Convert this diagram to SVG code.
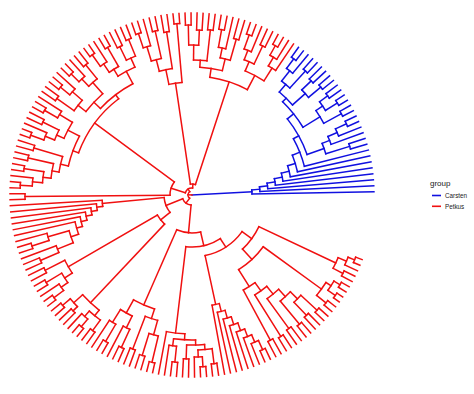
<svg xmlns="http://www.w3.org/2000/svg" width="474" height="394" viewBox="0 0 474 394">
<style>
path,circle{fill:none}
#tree{stroke-width:1.5;stroke-linecap:square}
.lt{font-family:"Liberation Sans",Arial,sans-serif;fill:#222}
</style>
<rect width="474" height="394" fill="#fff"/>
<g id="tree" transform="translate(192,195)">
<g id="carsten" stroke="#1010e0">
<path d="M0 0H60" transform="rotate(-2.95)"/>
<circle r="60" pathLength="360" stroke-dasharray="3.9 999" transform="rotate(-4.9)"/>
<path d="M60 0H182" transform="rotate(-1)"/><path d="M60 0H68" transform="rotate(-4.9)"/>
<circle r="68" pathLength="360" stroke-dasharray="4 999" transform="rotate(-6.9)"/>
<path d="M68 0H182" transform="rotate(-2.9)"/><path d="M68 0H76" transform="rotate(-6.9)"/>
<circle r="76" pathLength="360" stroke-dasharray="4.15 999" transform="rotate(-8.95)"/>
<path d="M76 0H182" transform="rotate(-4.8)"/><path d="M76 0H84" transform="rotate(-8.95)"/>
<circle r="84" pathLength="360" stroke-dasharray="4.5 999" transform="rotate(-11.2)"/>
<path d="M84 0H182" transform="rotate(-6.7)"/><path d="M84 0H92" transform="rotate(-11.2)"/>
<circle r="92" pathLength="360" stroke-dasharray="5.15 999" transform="rotate(-13.75)"/>
<path d="M92 0H182" transform="rotate(-8.6)"/><path d="M92 0H100" transform="rotate(-13.75)"/>
<circle r="100" pathLength="360" stroke-dasharray="6.5 999" transform="rotate(-17)"/>
<path d="M100 0H182" transform="rotate(-10.5)"/><path d="M100 0H108" transform="rotate(-17)"/>
<circle r="108" pathLength="360" stroke-dasharray="9.25 999" transform="rotate(-21.65)"/>
<path d="M108 0H182" transform="rotate(-12.4)"/><path d="M108 0H116" transform="rotate(-21.65)"/>
<circle r="116" pathLength="360" stroke-dasharray="14.7 999" transform="rotate(-29)"/>
<path d="M116 0H182" transform="rotate(-14.3)"/><path d="M116 0H122" transform="rotate(-29)"/>
<circle r="122" pathLength="360" stroke-dasharray="19.2 999" transform="rotate(-38.6)"/>
<path d="M122 0H140" transform="rotate(-19.4)"/><path d="M122 0H130" transform="rotate(-38.6)"/>
<circle r="140" pathLength="360" stroke-dasharray="4.5 999" transform="rotate(-21.65)"/>
<path d="M140 0H165" transform="rotate(-17.15)"/><path d="M140 0H148" transform="rotate(-21.65)"/>
<circle r="165" pathLength="360" stroke-dasharray="1.9 999" transform="rotate(-18.1)"/>
<path d="M165 0H182" transform="rotate(-16.2)"/><path d="M165 0H182" transform="rotate(-18.1)"/>
<circle r="148" pathLength="360" stroke-dasharray="3.3 999" transform="rotate(-23.3)"/>
<path d="M148 0H182" transform="rotate(-20)"/><path d="M148 0H158" transform="rotate(-23.3)"/>
<circle r="158" pathLength="360" stroke-dasharray="2.85 999" transform="rotate(-24.75)"/>
<path d="M158 0H182" transform="rotate(-21.9)"/><path d="M158 0H170" transform="rotate(-24.75)"/>
<circle r="170" pathLength="360" stroke-dasharray="1.9 999" transform="rotate(-25.7)"/>
<path d="M170 0H182" transform="rotate(-23.8)"/><path d="M170 0H182" transform="rotate(-25.7)"/>
<circle r="130" pathLength="360" stroke-dasharray="14.4 999" transform="rotate(-45.8)"/>
<path d="M130 0H150" transform="rotate(-31.4)"/><path d="M130 0H135" transform="rotate(-45.8)"/>
<circle r="150" pathLength="360" stroke-dasharray="5.7 999" transform="rotate(-34.25)"/>
<path d="M150 0H170" transform="rotate(-28.55)"/><path d="M150 0H158" transform="rotate(-34.25)"/>
<circle r="170" pathLength="360" stroke-dasharray="1.9 999" transform="rotate(-29.5)"/>
<path d="M170 0H182" transform="rotate(-27.6)"/><path d="M170 0H182" transform="rotate(-29.5)"/>
<circle r="158" pathLength="360" stroke-dasharray="3.8 999" transform="rotate(-36.15)"/>
<path d="M158 0H172" transform="rotate(-32.35)"/><path d="M158 0H168" transform="rotate(-36.15)"/>
<circle r="172" pathLength="360" stroke-dasharray="1.9 999" transform="rotate(-33.3)"/>
<path d="M172 0H182" transform="rotate(-31.4)"/><path d="M172 0H182" transform="rotate(-33.3)"/>
<circle r="168" pathLength="360" stroke-dasharray="1.9 999" transform="rotate(-37.1)"/>
<path d="M168 0H182" transform="rotate(-35.2)"/><path d="M168 0H182" transform="rotate(-37.1)"/>
<circle r="135" pathLength="360" stroke-dasharray="7.85 999" transform="rotate(-49.7)"/>
<path d="M135 0H152" transform="rotate(-41.85)"/><path d="M135 0H145" transform="rotate(-49.7)"/>
<circle r="152" pathLength="360" stroke-dasharray="3.8 999" transform="rotate(-43.75)"/>
<path d="M152 0H168" transform="rotate(-39.95)"/><path d="M152 0H165" transform="rotate(-43.75)"/>
<circle r="168" pathLength="360" stroke-dasharray="1.9 999" transform="rotate(-40.9)"/>
<path d="M168 0H182" transform="rotate(-39)"/><path d="M168 0H182" transform="rotate(-40.9)"/>
<circle r="165" pathLength="360" stroke-dasharray="1.9 999" transform="rotate(-44.7)"/>
<path d="M165 0H182" transform="rotate(-42.8)"/><path d="M165 0H182" transform="rotate(-44.7)"/>
<circle r="145" pathLength="360" stroke-dasharray="4.25 999" transform="rotate(-51.8)"/>
<path d="M145 0H168" transform="rotate(-47.55)"/><path d="M145 0H158" transform="rotate(-51.8)"/>
<circle r="168" pathLength="360" stroke-dasharray="1.9 999" transform="rotate(-48.5)"/>
<path d="M168 0H182" transform="rotate(-46.6)"/><path d="M168 0H182" transform="rotate(-48.5)"/>
<circle r="158" pathLength="360" stroke-dasharray="2.85 999" transform="rotate(-53.25)"/>
<path d="M158 0H182" transform="rotate(-50.4)"/><path d="M158 0H170" transform="rotate(-53.25)"/>
<circle r="170" pathLength="360" stroke-dasharray="1.9 999" transform="rotate(-54.2)"/>
<path d="M170 0H182" transform="rotate(-52.3)"/><path d="M170 0H182" transform="rotate(-54.2)"/>
</g>
<g id="petkus" stroke="#f01010">
<path d="M0 0H4" transform="rotate(-178.4)"/>
<circle r="4" pathLength="360" stroke-dasharray="109.75 999" transform="rotate(-233.3)"/>
<path d="M4 0H7" transform="rotate(-123.55)"/><path d="M4 0H10" transform="rotate(-233.3)"/>
<circle r="7" pathLength="360" stroke-dasharray="76.9 999" transform="rotate(-162)"/>
<path d="M7 0H11" transform="rotate(-85.1)"/><path d="M7 0H22" transform="rotate(-162)"/>
<circle r="11" pathLength="360" stroke-dasharray="26.55 999" transform="rotate(-98.4)"/>
<path d="M11 0H119" transform="rotate(-71.85)"/><path d="M11 0H113" transform="rotate(-98.4)"/>
<circle r="22" pathLength="360" stroke-dasharray="37.05 999" transform="rotate(-180.55)"/>
<path d="M22 0H121" transform="rotate(-143.5)"/><path d="M22 0H167" transform="rotate(-180.55)"/>
<circle r="167" pathLength="360" stroke-dasharray="1.9 999" transform="rotate(-181.5)"/>
<path d="M167 0H182" transform="rotate(-179.6)"/><path d="M167 0H182" transform="rotate(-181.5)"/>
<circle r="119" pathLength="360" stroke-dasharray="19.1 999" transform="rotate(-81.4)"/>
<path d="M119 0H135" transform="rotate(-62.3)"/><path d="M119 0H128" transform="rotate(-81.4)"/>
<circle r="135" pathLength="360" stroke-dasharray="9.05 999" transform="rotate(-66.8)"/>
<path d="M135 0H150" transform="rotate(-57.75)"/><path d="M135 0H145" transform="rotate(-66.8)"/>
<circle r="150" pathLength="360" stroke-dasharray="3.3 999" transform="rotate(-59.4)"/>
<path d="M150 0H182" transform="rotate(-56.1)"/><path d="M150 0H160" transform="rotate(-59.4)"/>
<circle r="160" pathLength="360" stroke-dasharray="2.85 999" transform="rotate(-60.85)"/>
<path d="M160 0H182" transform="rotate(-58)"/><path d="M160 0H171" transform="rotate(-60.85)"/>
<circle r="171" pathLength="360" stroke-dasharray="1.9 999" transform="rotate(-61.8)"/>
<path d="M171 0H182" transform="rotate(-59.9)"/><path d="M171 0H182" transform="rotate(-61.8)"/>
<circle r="145" pathLength="360" stroke-dasharray="4.25 999" transform="rotate(-68.9)"/>
<path d="M145 0H165" transform="rotate(-64.65)"/><path d="M145 0H155" transform="rotate(-68.9)"/>
<circle r="165" pathLength="360" stroke-dasharray="1.9 999" transform="rotate(-65.6)"/>
<path d="M165 0H182" transform="rotate(-63.7)"/><path d="M165 0H182" transform="rotate(-65.6)"/>
<circle r="155" pathLength="360" stroke-dasharray="2.85 999" transform="rotate(-70.35)"/>
<path d="M155 0H182" transform="rotate(-67.5)"/><path d="M155 0H170" transform="rotate(-70.35)"/>
<circle r="170" pathLength="360" stroke-dasharray="1.9 999" transform="rotate(-71.3)"/>
<path d="M170 0H182" transform="rotate(-69.4)"/><path d="M170 0H182" transform="rotate(-71.3)"/>
<circle r="128" pathLength="360" stroke-dasharray="10.2 999" transform="rotate(-86.5)"/>
<path d="M128 0H140" transform="rotate(-76.3)"/><path d="M128 0H135" transform="rotate(-86.5)"/>
<circle r="140" pathLength="360" stroke-dasharray="4.25 999" transform="rotate(-78.4)"/>
<path d="M140 0H162" transform="rotate(-74.15)"/><path d="M140 0H150" transform="rotate(-78.4)"/>
<circle r="162" pathLength="360" stroke-dasharray="1.9 999" transform="rotate(-75.1)"/>
<path d="M162 0H182" transform="rotate(-73.2)"/><path d="M162 0H182" transform="rotate(-75.1)"/>
<circle r="150" pathLength="360" stroke-dasharray="2.85 999" transform="rotate(-79.85)"/>
<path d="M150 0H182" transform="rotate(-77)"/><path d="M150 0H168" transform="rotate(-79.85)"/>
<circle r="168" pathLength="360" stroke-dasharray="1.9 999" transform="rotate(-80.8)"/>
<path d="M168 0H182" transform="rotate(-78.9)"/><path d="M168 0H182" transform="rotate(-80.8)"/>
<circle r="135" pathLength="360" stroke-dasharray="5.7 999" transform="rotate(-89.35)"/>
<path d="M135 0H166" transform="rotate(-83.65)"/><path d="M135 0H150" transform="rotate(-89.35)"/>
<circle r="166" pathLength="360" stroke-dasharray="1.9 999" transform="rotate(-84.6)"/>
<path d="M166 0H182" transform="rotate(-82.7)"/><path d="M166 0H182" transform="rotate(-84.6)"/>
<circle r="150" pathLength="360" stroke-dasharray="3.8 999" transform="rotate(-91.25)"/>
<path d="M150 0H165" transform="rotate(-87.45)"/><path d="M150 0H170" transform="rotate(-91.25)"/>
<circle r="165" pathLength="360" stroke-dasharray="1.9 999" transform="rotate(-88.4)"/>
<path d="M165 0H182" transform="rotate(-86.5)"/><path d="M165 0H182" transform="rotate(-88.4)"/>
<circle r="170" pathLength="360" stroke-dasharray="1.9 999" transform="rotate(-92.2)"/>
<path d="M170 0H182" transform="rotate(-90.3)"/><path d="M170 0H182" transform="rotate(-92.2)"/>
<circle r="113" pathLength="360" stroke-dasharray="6.75 999" transform="rotate(-101.8)"/>
<path d="M113 0H172" transform="rotate(-95.05)"/><path d="M113 0H128" transform="rotate(-101.8)"/>
<circle r="172" pathLength="360" stroke-dasharray="1.9 999" transform="rotate(-96)"/>
<path d="M172 0H182" transform="rotate(-94.1)"/><path d="M172 0H182" transform="rotate(-96)"/>
<circle r="128" pathLength="360" stroke-dasharray="5.95 999" transform="rotate(-104.8)"/>
<path d="M128 0H165" transform="rotate(-98.85)"/><path d="M128 0H140" transform="rotate(-104.8)"/>
<circle r="165" pathLength="360" stroke-dasharray="1.9 999" transform="rotate(-99.8)"/>
<path d="M165 0H182" transform="rotate(-97.9)"/><path d="M165 0H182" transform="rotate(-99.8)"/>
<circle r="140" pathLength="360" stroke-dasharray="4.25 999" transform="rotate(-106.9)"/>
<path d="M140 0H168" transform="rotate(-102.65)"/><path d="M140 0H155" transform="rotate(-106.9)"/>
<circle r="168" pathLength="360" stroke-dasharray="1.9 999" transform="rotate(-103.6)"/>
<path d="M168 0H182" transform="rotate(-101.7)"/><path d="M168 0H182" transform="rotate(-103.6)"/>
<circle r="155" pathLength="360" stroke-dasharray="2.85 999" transform="rotate(-108.35)"/>
<path d="M155 0H182" transform="rotate(-105.5)"/><path d="M155 0H170" transform="rotate(-108.35)"/>
<circle r="170" pathLength="360" stroke-dasharray="1.9 999" transform="rotate(-109.3)"/>
<path d="M170 0H182" transform="rotate(-107.4)"/><path d="M170 0H182" transform="rotate(-109.3)"/>
<circle r="121" pathLength="360" stroke-dasharray="32.3 999" transform="rotate(-159.6)"/>
<path d="M121 0H126" transform="rotate(-127.3)"/><path d="M121 0H127" transform="rotate(-159.6)"/>
<circle r="126" pathLength="360" stroke-dasharray="18.6 999" transform="rotate(-136.6)"/>
<path d="M126 0H140" transform="rotate(-118)"/><path d="M126 0H135" transform="rotate(-136.6)"/>
<circle r="140" pathLength="360" stroke-dasharray="7.85 999" transform="rotate(-121.9)"/>
<path d="M140 0H150" transform="rotate(-114.05)"/><path d="M140 0H148" transform="rotate(-121.9)"/>
<circle r="150" pathLength="360" stroke-dasharray="3.8 999" transform="rotate(-115.95)"/>
<path d="M150 0H168" transform="rotate(-112.15)"/><path d="M150 0H165" transform="rotate(-115.95)"/>
<circle r="168" pathLength="360" stroke-dasharray="1.9 999" transform="rotate(-113.1)"/>
<path d="M168 0H182" transform="rotate(-111.2)"/><path d="M168 0H182" transform="rotate(-113.1)"/>
<circle r="165" pathLength="360" stroke-dasharray="1.9 999" transform="rotate(-116.9)"/>
<path d="M165 0H182" transform="rotate(-115)"/><path d="M165 0H182" transform="rotate(-116.9)"/>
<circle r="148" pathLength="360" stroke-dasharray="4.25 999" transform="rotate(-124)"/>
<path d="M148 0H170" transform="rotate(-119.75)"/><path d="M148 0H158" transform="rotate(-124)"/>
<circle r="170" pathLength="360" stroke-dasharray="1.9 999" transform="rotate(-120.7)"/>
<path d="M170 0H182" transform="rotate(-118.8)"/><path d="M170 0H182" transform="rotate(-120.7)"/>
<circle r="158" pathLength="360" stroke-dasharray="2.85 999" transform="rotate(-125.45)"/>
<path d="M158 0H182" transform="rotate(-122.6)"/><path d="M158 0H172" transform="rotate(-125.45)"/>
<circle r="172" pathLength="360" stroke-dasharray="1.9 999" transform="rotate(-126.4)"/>
<path d="M172 0H182" transform="rotate(-124.5)"/><path d="M172 0H182" transform="rotate(-126.4)"/>
<circle r="135" pathLength="360" stroke-dasharray="10.4 999" transform="rotate(-141.8)"/>
<path d="M135 0H150" transform="rotate(-131.4)"/><path d="M135 0H145" transform="rotate(-141.8)"/>
<circle r="150" pathLength="360" stroke-dasharray="4.25 999" transform="rotate(-133.5)"/>
<path d="M150 0H168" transform="rotate(-129.25)"/><path d="M150 0H160" transform="rotate(-133.5)"/>
<circle r="168" pathLength="360" stroke-dasharray="1.9 999" transform="rotate(-130.2)"/>
<path d="M168 0H182" transform="rotate(-128.3)"/><path d="M168 0H182" transform="rotate(-130.2)"/>
<circle r="160" pathLength="360" stroke-dasharray="2.85 999" transform="rotate(-134.95)"/>
<path d="M160 0H182" transform="rotate(-132.1)"/><path d="M160 0H171" transform="rotate(-134.95)"/>
<circle r="171" pathLength="360" stroke-dasharray="1.9 999" transform="rotate(-135.9)"/>
<path d="M171 0H182" transform="rotate(-134)"/><path d="M171 0H182" transform="rotate(-135.9)"/>
<circle r="145" pathLength="360" stroke-dasharray="5.25 999" transform="rotate(-144.45)"/>
<path d="M145 0H158" transform="rotate(-139.2)"/><path d="M145 0H166" transform="rotate(-144.45)"/>
<circle r="158" pathLength="360" stroke-dasharray="2.85 999" transform="rotate(-140.65)"/>
<path d="M158 0H182" transform="rotate(-137.8)"/><path d="M158 0H170" transform="rotate(-140.65)"/>
<circle r="170" pathLength="360" stroke-dasharray="1.9 999" transform="rotate(-141.6)"/>
<path d="M170 0H182" transform="rotate(-139.7)"/><path d="M170 0H182" transform="rotate(-141.6)"/>
<circle r="166" pathLength="360" stroke-dasharray="1.9 999" transform="rotate(-145.4)"/>
<path d="M166 0H182" transform="rotate(-143.5)"/><path d="M166 0H182" transform="rotate(-145.4)"/>
<circle r="127" pathLength="360" stroke-dasharray="14.4 999" transform="rotate(-166.8)"/>
<path d="M127 0H140" transform="rotate(-152.4)"/><path d="M127 0H135" transform="rotate(-166.8)"/>
<circle r="140" pathLength="360" stroke-dasharray="7.4 999" transform="rotate(-156.1)"/>
<path d="M140 0H155" transform="rotate(-148.7)"/><path d="M140 0H148" transform="rotate(-156.1)"/>
<circle r="155" pathLength="360" stroke-dasharray="2.85 999" transform="rotate(-150.15)"/>
<path d="M155 0H182" transform="rotate(-147.3)"/><path d="M155 0H170" transform="rotate(-150.15)"/>
<circle r="170" pathLength="360" stroke-dasharray="1.9 999" transform="rotate(-151.1)"/>
<path d="M170 0H182" transform="rotate(-149.2)"/><path d="M170 0H182" transform="rotate(-151.1)"/>
<circle r="148" pathLength="360" stroke-dasharray="4.25 999" transform="rotate(-158.2)"/>
<path d="M148 0H166" transform="rotate(-153.95)"/><path d="M148 0H158" transform="rotate(-158.2)"/>
<circle r="166" pathLength="360" stroke-dasharray="1.9 999" transform="rotate(-154.9)"/>
<path d="M166 0H182" transform="rotate(-153)"/><path d="M166 0H182" transform="rotate(-154.9)"/>
<circle r="158" pathLength="360" stroke-dasharray="2.85 999" transform="rotate(-159.65)"/>
<path d="M158 0H182" transform="rotate(-156.8)"/><path d="M158 0H172" transform="rotate(-159.65)"/>
<circle r="172" pathLength="360" stroke-dasharray="1.9 999" transform="rotate(-160.6)"/>
<path d="M172 0H182" transform="rotate(-158.7)"/><path d="M172 0H182" transform="rotate(-160.6)"/>
<circle r="135" pathLength="360" stroke-dasharray="6.75 999" transform="rotate(-170.2)"/>
<path d="M135 0H165" transform="rotate(-163.45)"/><path d="M135 0H142" transform="rotate(-170.2)"/>
<circle r="165" pathLength="360" stroke-dasharray="1.9 999" transform="rotate(-164.4)"/>
<path d="M165 0H182" transform="rotate(-162.5)"/><path d="M165 0H182" transform="rotate(-164.4)"/>
<circle r="142" pathLength="360" stroke-dasharray="5.95 999" transform="rotate(-173.2)"/>
<path d="M142 0H168" transform="rotate(-167.25)"/><path d="M142 0H150" transform="rotate(-173.2)"/>
<circle r="168" pathLength="360" stroke-dasharray="1.9 999" transform="rotate(-168.2)"/>
<path d="M168 0H182" transform="rotate(-166.3)"/><path d="M168 0H182" transform="rotate(-168.2)"/>
<circle r="150" pathLength="360" stroke-dasharray="4.25 999" transform="rotate(-175.3)"/>
<path d="M150 0H170" transform="rotate(-171.05)"/><path d="M150 0H160" transform="rotate(-175.3)"/>
<circle r="170" pathLength="360" stroke-dasharray="1.9 999" transform="rotate(-172)"/>
<path d="M170 0H182" transform="rotate(-170.1)"/><path d="M170 0H182" transform="rotate(-172)"/>
<circle r="160" pathLength="360" stroke-dasharray="2.85 999" transform="rotate(-176.75)"/>
<path d="M160 0H182" transform="rotate(-173.9)"/><path d="M160 0H172" transform="rotate(-176.75)"/>
<circle r="172" pathLength="360" stroke-dasharray="1.9 999" transform="rotate(-177.7)"/>
<path d="M172 0H182" transform="rotate(-175.8)"/><path d="M172 0H182" transform="rotate(-177.7)"/>
<circle r="10" pathLength="360" stroke-dasharray="62.8 999" transform="rotate(-264.7)"/>
<path d="M10 0H28" transform="rotate(-201.9)"/><path d="M10 0H38" transform="rotate(-264.7)"/>
<circle r="28" pathLength="360" stroke-dasharray="33.05 999" transform="rotate(-218.4)"/>
<path d="M28 0H90" transform="rotate(-185.35)"/><path d="M28 0H40" transform="rotate(-218.4)"/>
<circle r="90" pathLength="360" stroke-dasharray="3.9 999" transform="rotate(-187.3)"/>
<path d="M90 0H182" transform="rotate(-183.4)"/><path d="M90 0H96" transform="rotate(-187.3)"/>
<circle r="96" pathLength="360" stroke-dasharray="3.95 999" transform="rotate(-189.25)"/>
<path d="M96 0H182" transform="rotate(-185.3)"/><path d="M96 0H102" transform="rotate(-189.25)"/>
<circle r="102" pathLength="360" stroke-dasharray="4.1 999" transform="rotate(-191.3)"/>
<path d="M102 0H182" transform="rotate(-187.2)"/><path d="M102 0H108" transform="rotate(-191.3)"/>
<circle r="108" pathLength="360" stroke-dasharray="4.4 999" transform="rotate(-193.5)"/>
<path d="M108 0H182" transform="rotate(-189.1)"/><path d="M108 0H114" transform="rotate(-193.5)"/>
<circle r="114" pathLength="360" stroke-dasharray="5 999" transform="rotate(-196)"/>
<path d="M114 0H182" transform="rotate(-191)"/><path d="M114 0H120" transform="rotate(-196)"/>
<circle r="120" pathLength="360" stroke-dasharray="6.15 999" transform="rotate(-199.05)"/>
<path d="M120 0H182" transform="rotate(-192.9)"/><path d="M120 0H128" transform="rotate(-199.05)"/>
<circle r="128" pathLength="360" stroke-dasharray="5.7 999" transform="rotate(-201.9)"/>
<path d="M128 0H150" transform="rotate(-196.2)"/><path d="M128 0H145" transform="rotate(-201.9)"/>
<circle r="150" pathLength="360" stroke-dasharray="2.85 999" transform="rotate(-197.65)"/>
<path d="M150 0H182" transform="rotate(-194.8)"/><path d="M150 0H168" transform="rotate(-197.65)"/>
<circle r="168" pathLength="360" stroke-dasharray="1.9 999" transform="rotate(-198.6)"/>
<path d="M168 0H182" transform="rotate(-196.7)"/><path d="M168 0H182" transform="rotate(-198.6)"/>
<circle r="145" pathLength="360" stroke-dasharray="2.85 999" transform="rotate(-203.35)"/>
<path d="M145 0H182" transform="rotate(-200.5)"/><path d="M145 0H165" transform="rotate(-203.35)"/>
<circle r="165" pathLength="360" stroke-dasharray="1.9 999" transform="rotate(-204.3)"/>
<path d="M165 0H182" transform="rotate(-202.4)"/><path d="M165 0H182" transform="rotate(-204.3)"/>
<circle r="40" pathLength="360" stroke-dasharray="16.6 999" transform="rotate(-226.7)"/>
<path d="M40 0H143" transform="rotate(-210.1)"/><path d="M40 0H148" transform="rotate(-226.7)"/>
<circle r="143" pathLength="360" stroke-dasharray="5.95 999" transform="rotate(-213.1)"/>
<path d="M143 0H165" transform="rotate(-207.15)"/><path d="M143 0H152" transform="rotate(-213.1)"/>
<circle r="165" pathLength="360" stroke-dasharray="1.9 999" transform="rotate(-208.1)"/>
<path d="M165 0H182" transform="rotate(-206.2)"/><path d="M165 0H182" transform="rotate(-208.1)"/>
<circle r="152" pathLength="360" stroke-dasharray="4.25 999" transform="rotate(-215.2)"/>
<path d="M152 0H170" transform="rotate(-210.95)"/><path d="M152 0H160" transform="rotate(-215.2)"/>
<circle r="170" pathLength="360" stroke-dasharray="1.9 999" transform="rotate(-211.9)"/>
<path d="M170 0H182" transform="rotate(-210)"/><path d="M170 0H182" transform="rotate(-211.9)"/>
<circle r="160" pathLength="360" stroke-dasharray="2.85 999" transform="rotate(-216.65)"/>
<path d="M160 0H182" transform="rotate(-213.8)"/><path d="M160 0H172" transform="rotate(-216.65)"/>
<circle r="172" pathLength="360" stroke-dasharray="1.9 999" transform="rotate(-217.6)"/>
<path d="M172 0H182" transform="rotate(-215.7)"/><path d="M172 0H182" transform="rotate(-217.6)"/>
<circle r="148" pathLength="360" stroke-dasharray="8.75 999" transform="rotate(-231.1)"/>
<path d="M148 0H160" transform="rotate(-222.35)"/><path d="M148 0H155" transform="rotate(-231.1)"/>
<circle r="160" pathLength="360" stroke-dasharray="3.8 999" transform="rotate(-224.25)"/>
<path d="M160 0H170" transform="rotate(-220.45)"/><path d="M160 0H166" transform="rotate(-224.25)"/>
<circle r="170" pathLength="360" stroke-dasharray="1.9 999" transform="rotate(-221.4)"/>
<path d="M170 0H182" transform="rotate(-219.5)"/><path d="M170 0H182" transform="rotate(-221.4)"/>
<circle r="166" pathLength="360" stroke-dasharray="1.9 999" transform="rotate(-225.2)"/>
<path d="M166 0H182" transform="rotate(-223.3)"/><path d="M166 0H182" transform="rotate(-225.2)"/>
<circle r="155" pathLength="360" stroke-dasharray="5.25 999" transform="rotate(-233.75)"/>
<path d="M155 0H162" transform="rotate(-228.5)"/><path d="M155 0H168" transform="rotate(-233.75)"/>
<circle r="162" pathLength="360" stroke-dasharray="2.85 999" transform="rotate(-229.95)"/>
<path d="M162 0H182" transform="rotate(-227.1)"/><path d="M162 0H172" transform="rotate(-229.95)"/>
<circle r="172" pathLength="360" stroke-dasharray="1.9 999" transform="rotate(-230.9)"/>
<path d="M172 0H182" transform="rotate(-229)"/><path d="M172 0H182" transform="rotate(-230.9)"/>
<circle r="168" pathLength="360" stroke-dasharray="1.9 999" transform="rotate(-234.7)"/>
<path d="M168 0H182" transform="rotate(-232.8)"/><path d="M168 0H182" transform="rotate(-234.7)"/>
<circle r="38" pathLength="360" stroke-dasharray="36.8 999" transform="rotate(-283.1)"/>
<path d="M38 0H120" transform="rotate(-246.3)"/><path d="M38 0H52" transform="rotate(-283.1)"/>
<circle r="120" pathLength="360" stroke-dasharray="10.95 999" transform="rotate(-251.8)"/>
<path d="M120 0H135" transform="rotate(-240.85)"/><path d="M120 0H130" transform="rotate(-251.8)"/>
<circle r="135" pathLength="360" stroke-dasharray="5.7 999" transform="rotate(-243.7)"/>
<path d="M135 0H150" transform="rotate(-238)"/><path d="M135 0H148" transform="rotate(-243.7)"/>
<circle r="150" pathLength="360" stroke-dasharray="2.85 999" transform="rotate(-239.45)"/>
<path d="M150 0H182" transform="rotate(-236.6)"/><path d="M150 0H170" transform="rotate(-239.45)"/>
<circle r="170" pathLength="360" stroke-dasharray="1.9 999" transform="rotate(-240.4)"/>
<path d="M170 0H182" transform="rotate(-238.5)"/><path d="M170 0H182" transform="rotate(-240.4)"/>
<circle r="148" pathLength="360" stroke-dasharray="2.85 999" transform="rotate(-245.15)"/>
<path d="M148 0H182" transform="rotate(-242.3)"/><path d="M148 0H168" transform="rotate(-245.15)"/>
<circle r="168" pathLength="360" stroke-dasharray="1.9 999" transform="rotate(-246.1)"/>
<path d="M168 0H182" transform="rotate(-244.2)"/><path d="M168 0H182" transform="rotate(-246.1)"/>
<circle r="130" pathLength="360" stroke-dasharray="5.7 999" transform="rotate(-254.65)"/>
<path d="M130 0H165" transform="rotate(-248.95)"/><path d="M130 0H145" transform="rotate(-254.65)"/>
<circle r="165" pathLength="360" stroke-dasharray="1.9 999" transform="rotate(-249.9)"/>
<path d="M165 0H182" transform="rotate(-248)"/><path d="M165 0H182" transform="rotate(-249.9)"/>
<circle r="145" pathLength="360" stroke-dasharray="3.8 999" transform="rotate(-256.55)"/>
<path d="M145 0H168" transform="rotate(-252.75)"/><path d="M145 0H172" transform="rotate(-256.55)"/>
<circle r="168" pathLength="360" stroke-dasharray="1.9 999" transform="rotate(-253.7)"/>
<path d="M168 0H182" transform="rotate(-251.8)"/><path d="M168 0H182" transform="rotate(-253.7)"/>
<circle r="172" pathLength="360" stroke-dasharray="1.9 999" transform="rotate(-257.5)"/>
<path d="M172 0H182" transform="rotate(-255.6)"/><path d="M172 0H182" transform="rotate(-257.5)"/>
<circle r="52" pathLength="360" stroke-dasharray="39.8 999" transform="rotate(-303)"/>
<path d="M52 0H139" transform="rotate(-263.2)"/><path d="M52 0H62" transform="rotate(-303)"/>
<circle r="139" pathLength="360" stroke-dasharray="7.65 999" transform="rotate(-267.05)"/>
<path d="M139 0H182" transform="rotate(-259.4)"/><path d="M139 0H145" transform="rotate(-267.05)"/>
<circle r="145" pathLength="360" stroke-dasharray="8.7 999" transform="rotate(-271.4)"/>
<path d="M145 0H152" transform="rotate(-262.7)"/><path d="M145 0H150" transform="rotate(-271.4)"/>
<circle r="152" pathLength="360" stroke-dasharray="2.85 999" transform="rotate(-264.15)"/>
<path d="M152 0H182" transform="rotate(-261.3)"/><path d="M152 0H168" transform="rotate(-264.15)"/>
<circle r="168" pathLength="360" stroke-dasharray="1.9 999" transform="rotate(-265.1)"/>
<path d="M168 0H182" transform="rotate(-263.2)"/><path d="M168 0H182" transform="rotate(-265.1)"/>
<circle r="150" pathLength="360" stroke-dasharray="6.85 999" transform="rotate(-274.8)"/>
<path d="M150 0H164" transform="rotate(-267.95)"/><path d="M150 0H155" transform="rotate(-274.8)"/>
<circle r="164" pathLength="360" stroke-dasharray="1.9 999" transform="rotate(-268.9)"/>
<path d="M164 0H182" transform="rotate(-267)"/><path d="M164 0H182" transform="rotate(-268.9)"/>
<circle r="155" pathLength="360" stroke-dasharray="5.25 999" transform="rotate(-277.45)"/>
<path d="M155 0H162" transform="rotate(-272.2)"/><path d="M155 0H170" transform="rotate(-277.45)"/>
<circle r="162" pathLength="360" stroke-dasharray="2.85 999" transform="rotate(-273.65)"/>
<path d="M162 0H182" transform="rotate(-270.8)"/><path d="M162 0H172" transform="rotate(-273.65)"/>
<circle r="172" pathLength="360" stroke-dasharray="1.9 999" transform="rotate(-274.6)"/>
<path d="M172 0H182" transform="rotate(-272.7)"/><path d="M172 0H182" transform="rotate(-274.6)"/>
<circle r="170" pathLength="360" stroke-dasharray="1.9 999" transform="rotate(-278.4)"/>
<path d="M170 0H182" transform="rotate(-276.5)"/><path d="M170 0H182" transform="rotate(-278.4)"/>
<circle r="62" pathLength="360" stroke-dasharray="41.65 999" transform="rotate(-323.85)"/>
<path d="M62 0H112" transform="rotate(-282.2)"/><path d="M62 0H74" transform="rotate(-323.85)"/>
<circle r="112" pathLength="360" stroke-dasharray="3.8 999" transform="rotate(-284.1)"/>
<path d="M112 0H182" transform="rotate(-280.3)"/><path d="M112 0H120" transform="rotate(-284.1)"/>
<circle r="120" pathLength="360" stroke-dasharray="3.8 999" transform="rotate(-286)"/>
<path d="M120 0H182" transform="rotate(-282.2)"/><path d="M120 0H128" transform="rotate(-286)"/>
<circle r="128" pathLength="360" stroke-dasharray="3.75 999" transform="rotate(-287.85)"/>
<path d="M128 0H182" transform="rotate(-284.1)"/><path d="M128 0H136" transform="rotate(-287.85)"/>
<circle r="136" pathLength="360" stroke-dasharray="3.7 999" transform="rotate(-289.7)"/>
<path d="M136 0H182" transform="rotate(-286)"/><path d="M136 0H144" transform="rotate(-289.7)"/>
<circle r="144" pathLength="360" stroke-dasharray="3.55 999" transform="rotate(-291.45)"/>
<path d="M144 0H182" transform="rotate(-287.9)"/><path d="M144 0H152" transform="rotate(-291.45)"/>
<circle r="152" pathLength="360" stroke-dasharray="3.3 999" transform="rotate(-293.1)"/>
<path d="M152 0H182" transform="rotate(-289.8)"/><path d="M152 0H160" transform="rotate(-293.1)"/>
<circle r="160" pathLength="360" stroke-dasharray="2.85 999" transform="rotate(-294.55)"/>
<path d="M160 0H182" transform="rotate(-291.7)"/><path d="M160 0H170" transform="rotate(-294.55)"/>
<circle r="170" pathLength="360" stroke-dasharray="1.9 999" transform="rotate(-295.5)"/>
<path d="M170 0H182" transform="rotate(-293.6)"/><path d="M170 0H182" transform="rotate(-295.5)"/>
<circle r="74" pathLength="360" stroke-dasharray="21.7 999" transform="rotate(-334.7)"/>
<path d="M74 0H88" transform="rotate(-313)"/><path d="M74 0H159" transform="rotate(-334.7)"/>
<circle r="88" pathLength="360" stroke-dasharray="22 999" transform="rotate(-324)"/>
<path d="M88 0H108" transform="rotate(-302)"/><path d="M88 0H160" transform="rotate(-324)"/>
<circle r="108" pathLength="360" stroke-dasharray="7.35 999" transform="rotate(-305.7)"/>
<path d="M108 0H165" transform="rotate(-298.35)"/><path d="M108 0H118" transform="rotate(-305.7)"/>
<circle r="165" pathLength="360" stroke-dasharray="1.9 999" transform="rotate(-299.3)"/>
<path d="M165 0H182" transform="rotate(-297.4)"/><path d="M165 0H182" transform="rotate(-299.3)"/>
<circle r="118" pathLength="360" stroke-dasharray="7.15 999" transform="rotate(-309.3)"/>
<path d="M118 0H167" transform="rotate(-302.15)"/><path d="M118 0H128" transform="rotate(-309.3)"/>
<circle r="167" pathLength="360" stroke-dasharray="1.9 999" transform="rotate(-303.1)"/>
<path d="M167 0H182" transform="rotate(-301.2)"/><path d="M167 0H182" transform="rotate(-303.1)"/>
<circle r="128" pathLength="360" stroke-dasharray="6.65 999" transform="rotate(-312.6)"/>
<path d="M128 0H165" transform="rotate(-305.95)"/><path d="M128 0H138" transform="rotate(-312.6)"/>
<circle r="165" pathLength="360" stroke-dasharray="1.9 999" transform="rotate(-306.9)"/>
<path d="M165 0H182" transform="rotate(-305)"/><path d="M165 0H182" transform="rotate(-306.9)"/>
<circle r="138" pathLength="360" stroke-dasharray="5.7 999" transform="rotate(-315.45)"/>
<path d="M138 0H168" transform="rotate(-309.75)"/><path d="M138 0H148" transform="rotate(-315.45)"/>
<circle r="168" pathLength="360" stroke-dasharray="1.9 999" transform="rotate(-310.7)"/>
<path d="M168 0H182" transform="rotate(-308.8)"/><path d="M168 0H182" transform="rotate(-310.7)"/>
<circle r="148" pathLength="360" stroke-dasharray="3.8 999" transform="rotate(-317.35)"/>
<path d="M148 0H166" transform="rotate(-313.55)"/><path d="M148 0H170" transform="rotate(-317.35)"/>
<circle r="166" pathLength="360" stroke-dasharray="1.9 999" transform="rotate(-314.5)"/>
<path d="M166 0H182" transform="rotate(-312.6)"/><path d="M166 0H182" transform="rotate(-314.5)"/>
<circle r="170" pathLength="360" stroke-dasharray="1.9 999" transform="rotate(-318.3)"/>
<path d="M170 0H182" transform="rotate(-316.4)"/><path d="M170 0H182" transform="rotate(-318.3)"/>
<circle r="160" pathLength="360" stroke-dasharray="5.7 999" transform="rotate(-326.85)"/>
<path d="M160 0H172" transform="rotate(-321.15)"/><path d="M160 0H166" transform="rotate(-326.85)"/>
<circle r="172" pathLength="360" stroke-dasharray="1.9 999" transform="rotate(-322.1)"/>
<path d="M172 0H182" transform="rotate(-320.2)"/><path d="M172 0H182" transform="rotate(-322.1)"/>
<circle r="166" pathLength="360" stroke-dasharray="3.8 999" transform="rotate(-328.75)"/>
<path d="M166 0H175" transform="rotate(-324.95)"/><path d="M166 0H173" transform="rotate(-328.75)"/>
<circle r="175" pathLength="360" stroke-dasharray="1.9 999" transform="rotate(-325.9)"/>
<path d="M175 0H182" transform="rotate(-324)"/><path d="M175 0H182" transform="rotate(-325.9)"/>
<circle r="173" pathLength="360" stroke-dasharray="1.9 999" transform="rotate(-329.7)"/>
<path d="M173 0H182" transform="rotate(-327.8)"/><path d="M173 0H182" transform="rotate(-329.7)"/>
<circle r="159" pathLength="360" stroke-dasharray="4.25 999" transform="rotate(-336.8)"/>
<path d="M159 0H170" transform="rotate(-332.55)"/><path d="M159 0H168" transform="rotate(-336.8)"/>
<circle r="170" pathLength="360" stroke-dasharray="1.9 999" transform="rotate(-333.5)"/>
<path d="M170 0H182" transform="rotate(-331.6)"/><path d="M170 0H182" transform="rotate(-333.5)"/>
<circle r="168" pathLength="360" stroke-dasharray="2.85 999" transform="rotate(-338.25)"/>
<path d="M168 0H182" transform="rotate(-335.4)"/><path d="M168 0H175" transform="rotate(-338.25)"/>
<circle r="175" pathLength="360" stroke-dasharray="1.9 999" transform="rotate(-339.2)"/>
<path d="M175 0H182" transform="rotate(-337.3)"/><path d="M175 0H182" transform="rotate(-339.2)"/>
</g>
</g>
<g id="legend">
<text class="lt" x="430" y="186" font-size="8">group</text>
<g id="key-carsten"><path d="M432 195.5H441" stroke="#1010e0" stroke-width="1.6"/><text class="lt" x="445" y="197.8" font-size="6.3">Carsten</text></g>
<g id="key-petkus"><path d="M432 206.3H441" stroke="#f01010" stroke-width="1.6"/><text class="lt" x="445" y="208.6" font-size="6.3">Petkus</text></g>
</g>
</svg>
